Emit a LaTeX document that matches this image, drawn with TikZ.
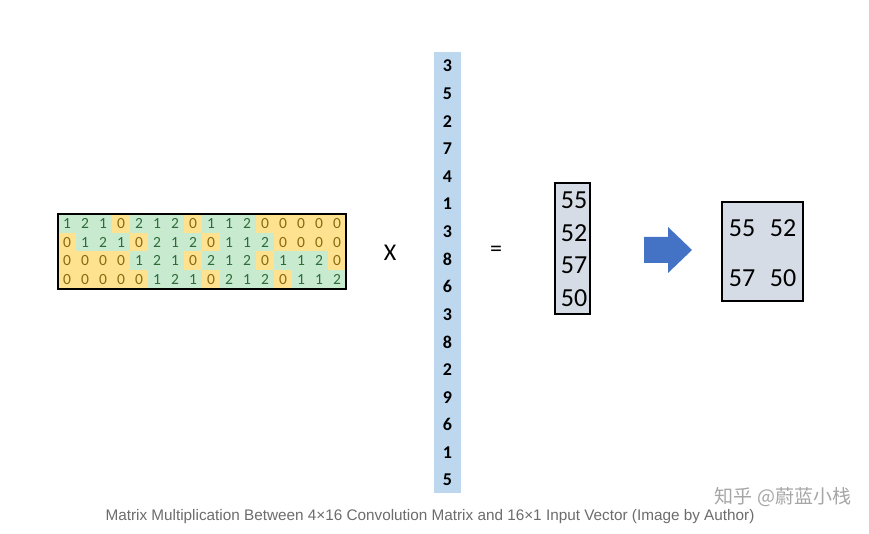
\documentclass[tikz,border=0pt]{standalone}
\usepackage{fontspec}
\setmainfont{Carlito}
\newfontfamily\cjk{Noto Sans CJK SC}
\newfontfamily\capfont{Liberation Sans}
\definecolor{cg}{HTML}{C8EBCF}
\definecolor{cy}{HTML}{FFE28F}
\definecolor{tg}{HTML}{2E6B3A}
\definecolor{ty}{HTML}{8A6A10}
\definecolor{vb}{HTML}{BDD7EE}
\definecolor{rg}{HTML}{D6DCE5}
\definecolor{ab}{HTML}{4472C4}
\begin{document}
\begin{tikzpicture}[x=1pt,y=-1pt,
  cellg/.style={fill=cg,text=tg,minimum width=18pt,minimum height=18.75pt,inner sep=0,font=\fontsize{15.5}{15.5}\selectfont},
  celly/.style={fill=cy,text=ty,minimum width=18pt,minimum height=18.75pt,inner sep=0,font=\fontsize{15.5}{15.5}\selectfont},
  vnum/.style={font=\fontsize{18}{18}\selectfont\bfseries,inner sep=0},
  rnum/.style={font=\fontsize{26}{26}\selectfont,inner sep=0}]
\useasboundingbox (0,0) rectangle (869,534);
\fill[white] (0,0) rectangle (869,534);
\foreach \row [count=\r] in {{1,2,1,0,2,1,2,0,1,1,2,0,0,0,0,0},{0,1,2,1,0,2,1,2,0,1,1,2,0,0,0,0},{0,0,0,0,1,2,1,0,2,1,2,0,1,1,2,0},{0,0,0,0,0,1,2,1,0,2,1,2,0,1,1,2}}{
  \foreach \v [count=\c] in \row {
    \ifnum\v=0 \node[celly] (m\r-\c) at ({58+18*\c-9},{214+18.75*\r-9.375}) {\v};
    \else \node[cellg] (m\r-\c) at ({58+18*\c-9},{214+18.75*\r-9.375}) {\v};\fi
  }}
\draw[line width=1.2pt] (58,214) rectangle (346,289);
\node (x) at (390,253) {\fontsize{24}{24}\selectfont X};
\node (eq) at (496,251) {\fontsize{24}{24}\selectfont =};
\fill[vb] (434,52) rectangle (461,493);
\foreach \v [count=\i] in {3,5,2,7,4,1,3,8,6,3,8,2,9,6,1,5}
  \node[vnum] (v\i) at (447.5,{66+27.6*(\i-1)}) {\v};
\draw[fill=rg,line width=1.4pt] (555,183) rectangle (590,314);
\foreach \v [count=\i] in {55,52,57,50}
  \node[rnum] (r\i) at (574,{200+32.7*(\i-1)}) {\v};
\fill[ab] (644,237) -- (668,237) -- (668,227) -- (692,250) -- (668,273) -- (668,263) -- (644,263) -- cycle;
\draw[fill=rg,line width=1.4pt] (722,202) rectangle (803,301);
\node[rnum] (s1) at (742,228) {55};
\node[rnum] (s2) at (783,228) {52};
\node[rnum] (s3) at (742,278) {57};
\node[rnum] (s4) at (783,278) {50};
\node[text=gray!85!black] (cap) at (430,517) {\capfont\fontsize{15.3}{15.3}\selectfont Matrix Multiplication Between 4×16 Convolution Matrix and 16×1 Input Vector (Image by Author)};
\node[text=gray!70] (wm) at (783,497) {\cjk\fontsize{19}{19}\selectfont 知乎 @蔚蓝小栈};
\end{tikzpicture}
\end{document}
